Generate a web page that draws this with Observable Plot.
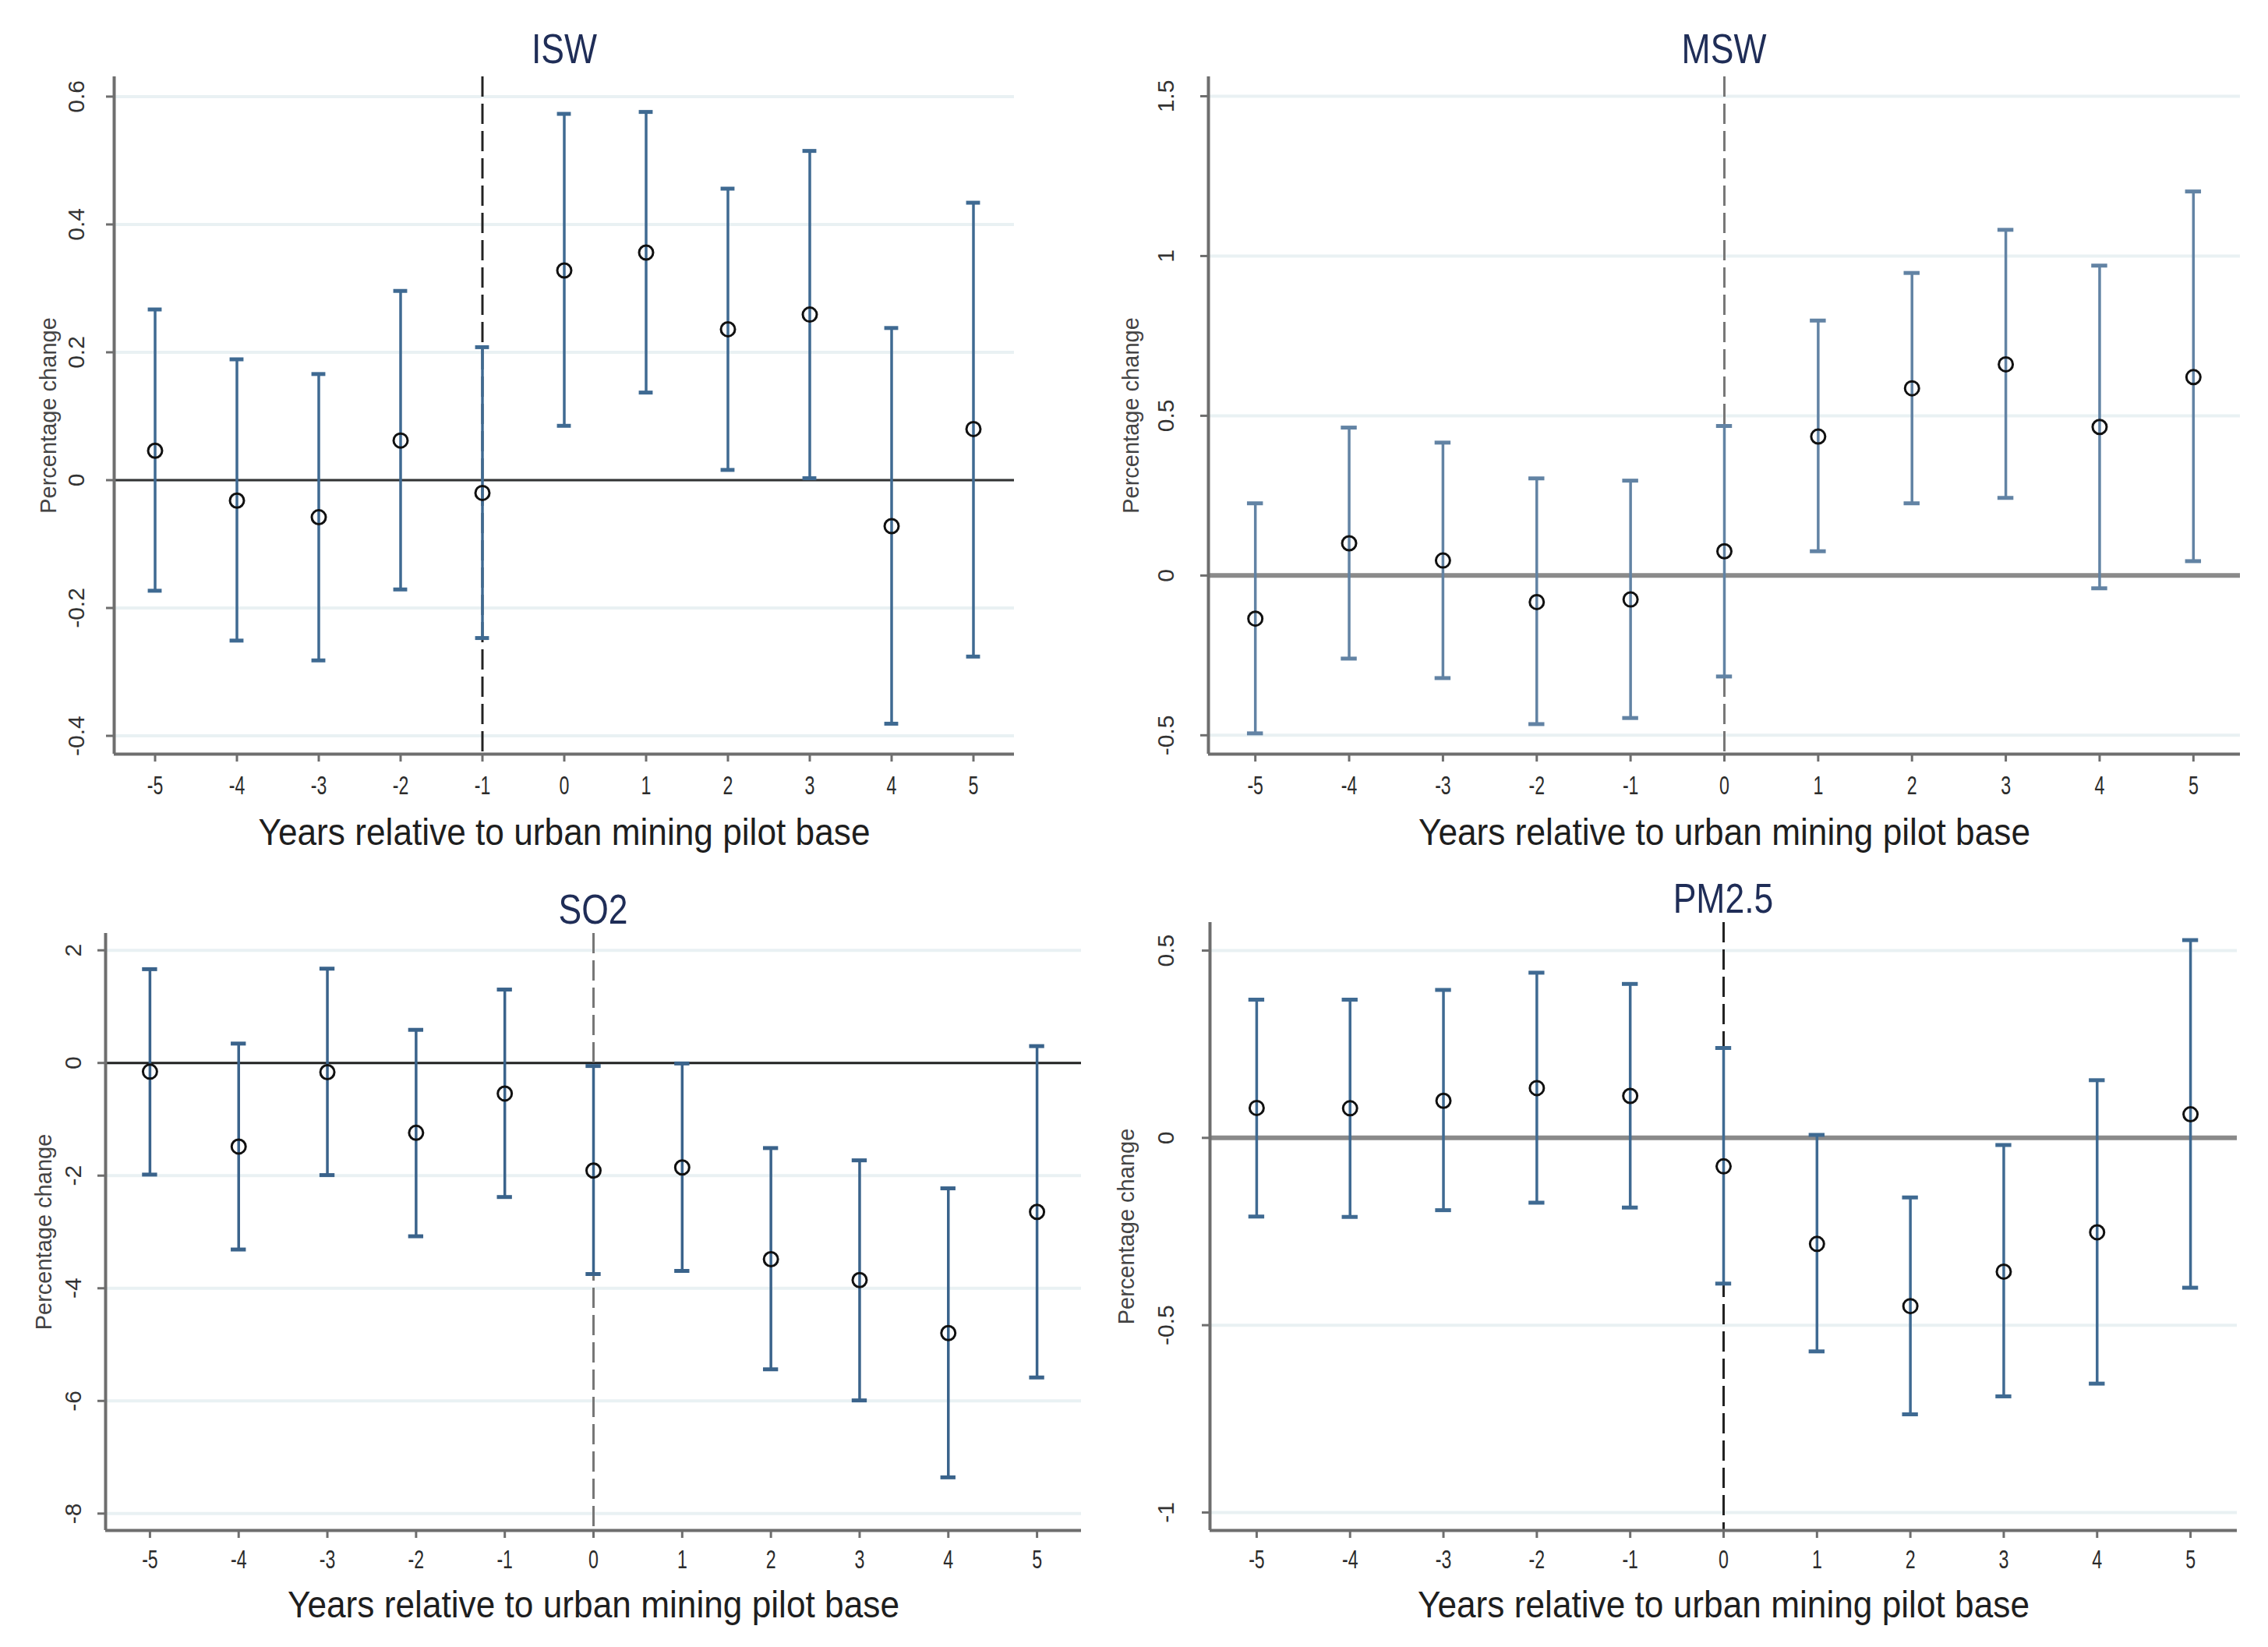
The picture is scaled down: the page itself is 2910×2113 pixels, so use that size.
<!DOCTYPE html>
<html><head><meta charset="utf-8">
<script src="https://cdn.jsdelivr.net/npm/d3@7"></script>
<script src="https://cdn.jsdelivr.net/npm/@observablehq/plot@0.6"></script>
<style>
body{margin:0;background:#fff;}
#root{position:relative;width:2910px;height:2113px;overflow:hidden;background:#fff;}
.panel{position:absolute;}
.title{position:absolute;font-family:"Liberation Sans",Arial,sans-serif;font-size:53px;color:#1f2d57;transform:translate(-50%,-50%) scaleX(0.84);white-space:nowrap;line-height:1;}
</style></head><body><div id="root"></div>
<script>
// ---- data ----
const years = [-5,-4,-3,-2,-1,0,1,2,3,4,5];

const iswEst = [0.046,-0.032,-0.058,0.062,-0.020,0.328,0.356,0.236,0.259,-0.072,0.080];
const iswLo  = [-0.173,-0.251,-0.282,-0.171,-0.247,0.085,0.137,0.016,0.003,-0.381,-0.276];
const iswHi  = [0.267,0.189,0.166,0.296,0.208,0.573,0.576,0.456,0.515,0.238,0.434];
const iswTicks = [-0.4,-0.2,0,0.2,0.4,0.6];

const mswEst = [-0.135,0.101,0.047,-0.083,-0.075,0.076,0.435,0.586,0.661,0.465,0.621];
const mswLo  = [-0.494,-0.260,-0.321,-0.465,-0.446,-0.316,0.076,0.226,0.243,-0.040,0.045];
const mswHi  = [0.226,0.463,0.416,0.304,0.297,0.468,0.798,0.947,1.082,0.970,1.202];
const mswTicks = [-0.5,0,0.5,1,1.5];

const so2Est = [-0.154,-1.484,-0.163,-1.240,-0.543,-1.910,-1.855,-3.484,-3.855,-4.796,-2.643];
const so2Lo  = [-1.982,-3.312,-1.991,-3.077,-2.380,-3.747,-3.692,-5.439,-5.991,-7.357,-5.584];
const so2Hi  = [1.665,0.344,1.674,0.588,1.303,-0.054,-0.009,-1.511,-1.729,-2.226,0.299];
const so2Ticks = [-8,-6,-4,-2,0,2];

const pmEst = [0.080,0.079,0.099,0.133,0.112,-0.076,-0.283,-0.449,-0.357,-0.252,0.063];
const pmLo  = [-0.210,-0.211,-0.193,-0.173,-0.186,-0.389,-0.570,-0.738,-0.690,-0.656,-0.400];
const pmHi  = [0.369,0.369,0.395,0.441,0.411,0.240,0.008,-0.159,-0.019,0.154,0.528];
const pmTicks = [-1,-0.5,0,0.5];

const titles = ["ISW","MSW","SO2","PM2.5"];
const xTitle = "Years relative to urban mining pilot base";
const yTitle = "Percentage change";

// ---- layout / styles ----
const panels = [
  {title:titles[0], est:iswEst, lo:iswLo, hi:iswHi, ticks:iswTicks, yDom:[-0.4286,0.631], vline:-1,
   L:146,R:1301,T:98,B:967, ylab:84, ytk:48, xtk:41, xtt:101, zero:"#333", zeroW:3, vcol:"#222", bar:"#3f6a92", titleY:62},
  {title:titles[1], est:mswEst, lo:mswLo, hi:mswHi, ticks:mswTicks, yDom:[-0.559,1.561], vline:0,
   L:1550,R:2874,T:98,B:967, ylab:99, ytk:54, xtk:41, xtt:101, zero:"#8a8a8a", zeroW:6, vcol:"#777", bar:"#6283a4", titleY:62},
  {title:titles[2], est:so2Est, lo:so2Lo, hi:so2Hi, ticks:so2Ticks, yDom:[-8.30,2.30], vline:0,
   L:135,R:1387,T:1197,B:1963, ylab:79, ytk:41, xtk:38, xtt:96, zero:"#222", zeroW:3, vcol:"#777", bar:"#3a638b", titleY:1166},
  {title:titles[3], est:pmEst, lo:pmLo, hi:pmHi, ticks:pmTicks, yDom:[-1.048,0.575], vline:0,
   L:1552,R:2870,T:1183,B:1963, ylab:107, ytk:56, xtk:38, xtt:96, zero:"#8a8a8a", zeroW:6, vcol:"#222", bar:"#3f6a92", titleY:1152}
];

const ML = 140, MR = 10, MT = 10, MB = 140;
const regular = '"Liberation Sans",Arial,sans-serif';
const XTICK_FILL = "#2b2b2b", XTITLE_FILL = "#1e1e1e";
const root = document.getElementById("root");

function condense(el, factor) {
  const w = el.getComputedTextLength();
  if (w > 0) {
    el.setAttribute("textLength", (w * factor).toFixed(1));
    el.setAttribute("lengthAdjust", "spacingAndGlyphs");
  }
}

for (const p of panels) {
  const data = years.map((y,i)=>({year:y, est:p.est[i], lo:p.lo[i], hi:p.hi[i]}));
  const xDom = [-5.5,5.5];
  const chart = Plot.plot({
    width: p.R - p.L + ML + MR,
    height: p.B - p.T + MT + MB,
    marginLeft: ML, marginRight: MR, marginTop: MT, marginBottom: MB,
    style: {background:"transparent", fontFamily: regular},
    x: {domain: xDom, axis: null},
    y: {domain: p.yDom, axis: null},
    marks: [
      Plot.ruleY(p.ticks, {y: d=>d, stroke:"#e9f1f3", strokeWidth:4}),
      Plot.ruleY([0], {stroke:p.zero, strokeWidth:p.zeroW}),
      Plot.ruleX([p.vline], {stroke:p.vcol, strokeWidth:3, strokeDasharray:"26,9"}),
      Plot.ruleX(data, {x:"year", y1:"lo", y2:"hi", stroke:p.bar, strokeWidth:3.5}),
      Plot.ruleY(data, {y:"hi", x1:d=>d.year-0.085, x2:d=>d.year+0.085, stroke:p.bar, strokeWidth:5}),
      Plot.ruleY(data, {y:"lo", x1:d=>d.year-0.085, x2:d=>d.year+0.085, stroke:p.bar, strokeWidth:5}),
      Plot.dot(data, {x:"year", y:"est", r:9, stroke:"#111", strokeWidth:3, fill:"none"}),
      // axis lines
      Plot.ruleX([xDom[0]], {stroke:"#6e6e6e", strokeWidth:4}),
      Plot.ruleY([p.yDom[0]], {stroke:"#6e6e6e", strokeWidth:4}),
      // tick marks
      Plot.axisY({ticks:p.ticks, tickSize:10, tickFormat:()=>"", label:null, stroke:"#6e6e6e", strokeWidth:3}),
      Plot.axisX({ticks:years, tickSize:10, tickFormat:()=>"", label:null, stroke:"#6e6e6e", strokeWidth:3}),
      // tick labels
      Plot.text(p.ticks, {y:d=>d, text:d=>String(d), frameAnchor:"left", dx:-p.ytk, rotate:-90,
        textAnchor:"middle", lineAnchor:"middle", fontSize:30, fill:"#333", fontFamily:regular}),
      Plot.text(years, {x:d=>d, text:d=>String(d), frameAnchor:"bottom", dy:p.xtk,
        textAnchor:"middle", lineAnchor:"middle", fontSize:33, fill:XTICK_FILL, fontFamily:regular}),
      // axis titles
      Plot.text([xTitle], {frameAnchor:"bottom", dy:p.xtt, text:d=>d, lineAnchor:"middle",
        fontSize:48, fill:XTITLE_FILL, fontFamily:regular}),
      Plot.text([yTitle], {frameAnchor:"left", dx:-p.ylab, text:d=>d, rotate:-90, textAnchor:"middle",
        lineAnchor:"middle", fontSize:29, fill:"#444", fontFamily:regular})
    ]
  });
  const wrap = document.createElement("div");
  wrap.className = "panel";
  wrap.style.left = (p.L - ML) + "px";
  wrap.style.top = (p.T - MT) + "px";
  wrap.appendChild(chart);
  root.appendChild(wrap);
  // condensed lettering like the reference (Stata export is horizontally narrow)
  d3.select(chart).selectAll(`g[fill="${XTICK_FILL}"] text`).each(function(){ condense(this, 0.7); });
  d3.select(chart).selectAll(`g[fill="${XTITLE_FILL}"] text`).each(function(){
    this.setAttribute("textLength", "785");
    this.setAttribute("lengthAdjust", "spacingAndGlyphs");
  });
  const t = document.createElement("div");
  t.className = "title";
  t.textContent = p.title;
  t.style.left = ((p.L + p.R)/2) + "px";
  t.style.top = p.titleY + "px";
  root.appendChild(t);
}
</script>
</body></html>
